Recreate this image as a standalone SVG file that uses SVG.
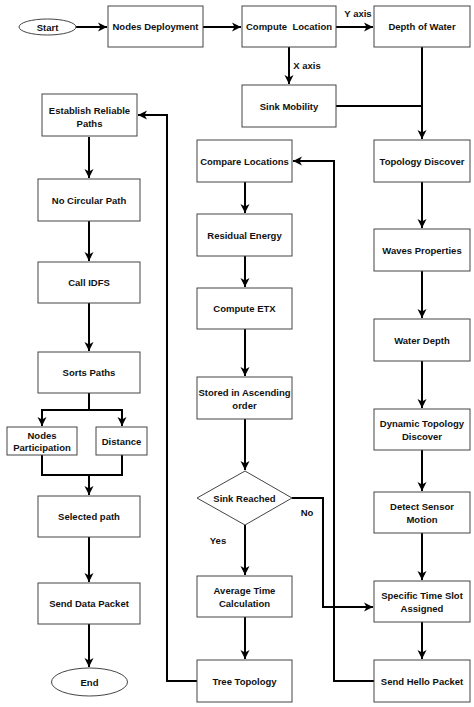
<svg xmlns="http://www.w3.org/2000/svg" width="474" height="707" viewBox="0 0 474 707">
<style>
.b{fill:#fff;stroke:#444;stroke-width:1}
.t{font-family:"Liberation Sans",Arial,sans-serif;font-size:9.5px;font-weight:bold;fill:#111;text-anchor:middle}
.c{fill:none;stroke:#000;stroke-width:2}
.a{marker-end:url(#ah)}
</style>
<defs>
<marker id="ah" markerUnits="userSpaceOnUse" markerWidth="10" markerHeight="10" refX="9" refY="5" orient="auto">
<path d="M0,0.5 L9,5 L0,9.5 L2.5,5 Z" fill="#000"/>
</marker>
</defs>
<rect width="474" height="707" fill="#fff"/>
<g id="connectors">
<path class="c a" d="M76,27 H107"/>
<path class="c a" d="M203,27 H241"/>
<path class="c a" d="M336,27 H373"/>
<path class="c a" d="M289,47 V84"/>
<path class="c a" d="M422,47 V139"/>
<path class="c" d="M336,106 H422"/>
<path class="c a" d="M245,182 V213"/>
<path class="c a" d="M245,256 V287"/>
<path class="c a" d="M245,329 V376"/>
<path class="c a" d="M245,419 V470"/>
<path class="c a" d="M245,525 V575"/>
<path class="c a" d="M245,617 V659"/>
<path class="c a" d="M197,681 H167 V115 H138"/>
<path class="c a" d="M292,498 H323 V607 H373"/>
<path class="c a" d="M374,681 H334 V161 H293"/>
<path class="c a" d="M422,182 V228"/>
<path class="c a" d="M422,271 V318"/>
<path class="c a" d="M422,361 V408"/>
<path class="c a" d="M422,450 V491"/>
<path class="c a" d="M422,533 V580"/>
<path class="c a" d="M422,622 V659"/>
<path class="c a" d="M89,137 V178"/>
<path class="c a" d="M89,221 V261"/>
<path class="c a" d="M89,303 V351"/>
<path class="c" d="M89,393 V410"/>
<path class="c a" d="M89,410 H42 V426"/>
<path class="c a" d="M89,410 H122 V426"/>
<path class="c" d="M42,455 V475 H122 V455"/>
<path class="c a" d="M89,475 V495"/>
<path class="c a" d="M89,537 V582"/>
<path class="c a" d="M89,624 V667"/>
<text class="t" x="358" y="17">Y axis</text>
<text class="t" x="307" y="69">X axis</text>
<text class="t" x="307" y="516">No</text>
<text class="t" x="218" y="544">Yes</text>
</g>
<g id="start"><ellipse class="b" cx="47.5" cy="27" rx="28.5" ry="8"/><text class="t" x="47.5" y="30.5">Start</text></g>
<g id="nodes-deployment"><rect class="b" x="108" y="6" width="95" height="41"/><text class="t" x="155.5" y="30">Nodes Deployment</text></g>
<g id="compute-location"><rect class="b" x="242" y="6" width="94" height="41"/><text class="t" x="289" y="30" xml:space="preserve">Compute  Location</text></g>
<g id="depth-of-water"><rect class="b" x="374" y="6" width="96" height="41"/><text class="t" x="422" y="30">Depth of Water</text></g>
<g id="sink-mobility"><rect class="b" x="242" y="85" width="94" height="42"/><text class="t" x="289" y="109.5">Sink Mobility</text></g>
<g id="establish"><rect class="b" x="42" y="94" width="95" height="42"/><text class="t" x="89.5" y="113.5">Establish Reliable</text><text class="t" x="89.5" y="126.5">Paths</text></g>
<g id="no-circular"><rect class="b" x="38" y="179" width="102" height="42"/><text class="t" x="89" y="203.5">No Circular Path</text></g>
<g id="call-idfs"><rect class="b" x="38" y="262" width="102" height="41"/><text class="t" x="89" y="286">Call IDFS</text></g>
<g id="sorts-paths"><rect class="b" x="38" y="352" width="102" height="41"/><text class="t" x="89" y="376">Sorts Paths</text></g>
<g id="nodes-participation"><rect class="b" x="7" y="427" width="70" height="28"/><text class="t" x="42" y="438.5">Nodes</text><text class="t" x="42" y="450.5">Participation</text></g>
<g id="distance"><rect class="b" x="96" y="427" width="51" height="28"/><text class="t" x="121.5" y="444.5">Distance</text></g>
<g id="selected-path"><rect class="b" x="38" y="496" width="102" height="41"/><text class="t" x="89" y="520">Selected path</text></g>
<g id="send-data"><rect class="b" x="38" y="583" width="102" height="41"/><text class="t" x="89" y="607">Send Data Packet</text></g>
<g id="end"><ellipse class="b" cx="89.5" cy="682" rx="38" ry="14"/><text class="t" x="89.5" y="685.5">End</text></g>
<g id="compare-locations"><rect class="b" x="197" y="140" width="95" height="42"/><text class="t" x="244.5" y="164.5">Compare Locations</text></g>
<g id="residual-energy"><rect class="b" x="197" y="214" width="95" height="42"/><text class="t" x="244.5" y="238.5">Residual Energy</text></g>
<g id="compute-etx"><rect class="b" x="197" y="288" width="95" height="41"/><text class="t" x="244.5" y="312">Compute ETX</text></g>
<g id="stored"><rect class="b" x="197" y="377" width="95" height="42"/><text class="t" x="244.5" y="396">Stored in Ascending</text><text class="t" x="244.5" y="409">order</text></g>
<g id="sink-reached"><polygon class="b" points="245,471 292,498 245,525 197,498"/><text class="t" x="244.5" y="501.5">Sink Reached</text></g>
<g id="average-time"><rect class="b" x="197" y="576" width="95" height="41"/><text class="t" x="244.5" y="594">Average Time</text><text class="t" x="244.5" y="606.5">Calculation</text></g>
<g id="tree-topology"><rect class="b" x="197" y="660" width="95" height="42"/><text class="t" x="244.5" y="684.5">Tree Topology</text></g>
<g id="topology-discover"><rect class="b" x="374" y="140" width="96" height="42"/><text class="t" x="422" y="164.5">Topology Discover</text></g>
<g id="waves-properties"><rect class="b" x="374" y="229" width="96" height="42"/><text class="t" x="422" y="253.5">Waves Properties</text></g>
<g id="water-depth"><rect class="b" x="374" y="319" width="96" height="42"/><text class="t" x="422" y="343.5">Water Depth</text></g>
<g id="dynamic-topology"><rect class="b" x="374" y="409" width="96" height="41"/><text class="t" x="422" y="427">Dynamic Topology</text><text class="t" x="422" y="440">Discover</text></g>
<g id="detect-sensor"><rect class="b" x="374" y="492" width="96" height="41"/><text class="t" x="422" y="510">Detect Sensor</text><text class="t" x="422" y="523">Motion</text></g>
<g id="specific-time"><rect class="b" x="374" y="581" width="96" height="41"/><text class="t" x="422" y="598.5">Specific Time Slot</text><text class="t" x="422" y="611.5">Assigned</text></g>
<g id="send-hello"><rect class="b" x="374" y="660" width="96" height="42"/><text class="t" x="422" y="684.5">Send Hello Packet</text></g>
</svg>
